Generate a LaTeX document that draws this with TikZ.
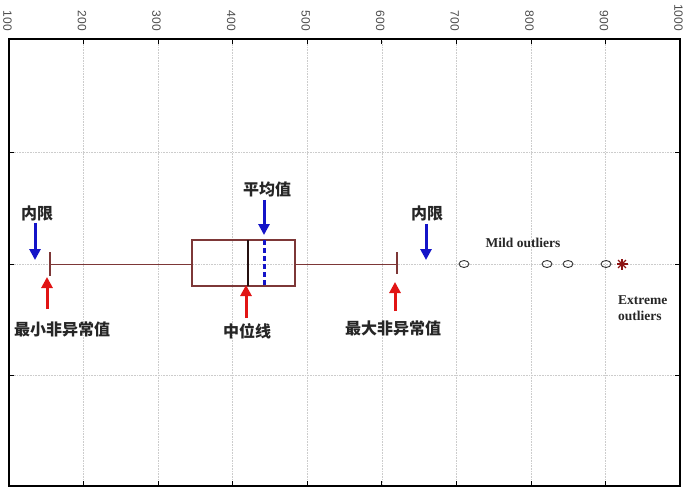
\documentclass[tikz,border=0pt]{standalone}
\usepackage{fontspec}
\setmainfont{Liberation Serif}
\newfontfamily\cjk{Noto Sans CJK SC}
\newfontfamily\axisfont{Liberation Sans}
\usepackage{tikz}
\usetikzlibrary{arrows.meta, positioning, shapes.geometric}

\definecolor{boxred}{RGB}{125,55,55}
\definecolor{outred}{RGB}{140,20,20}
\definecolor{arrowblue}{RGB}{20,20,200}
\definecolor{arrowred}{RGB}{225,20,20}

\begin{document}
\begin{tikzpicture}[x=1pt, y=-1pt,
        frame/.style={line width=1.2pt, black},
        gridline/.style={densely dotted, gray!40, line width=0.6pt},
        ticklabel/.style={font=\axisfont\fontsize{12}{12}\selectfont, text=black!70, rotate=-90, anchor=east, inner sep=0pt},
        boxline/.style={draw=boxred, line width=1.1pt},
        label/.style={font=\cjk\bfseries\fontsize{16}{16}\selectfont, text=black!85, inner sep=1pt},
        enlabel/.style={font=\bfseries\fontsize{13.5}{16}\selectfont, text=black!85, inner sep=0pt},
        downarrow/.style={-{Triangle[width=11pt,length=11pt]}, line width=3pt, draw=arrowblue},
        uparrow/.style={-{Triangle[width=11pt,length=11pt]}, line width=3pt, draw=arrowred},
        mild/.style={ellipse, draw=black!80, line width=0.9pt, minimum width=10pt, minimum height=7pt, inner sep=0pt}
    ]
    \useasboundingbox (0,0) rectangle (690,492);

    % 网格与坐标轴
    \foreach \i in {1,...,8}
        \draw[gridline] ({9+74.56*\i},39) -- ({9+74.56*\i},486);
    \foreach \y in {152,264,375}
        \draw[gridline] (9,\y) -- (680,\y);
    \foreach \v [count=\i from 0] in {100,200,300,400,500,600,700,800,900,1000} {
        \node[ticklabel] (t\v) at ({9+74.56*\i-1.5},31) {\v};
        \draw[line width=0.8pt] ({9+74.56*\i},39) -- ++(0,5);
        \draw[line width=0.8pt] ({9+74.56*\i},486) -- ++(0,-5);
    }
    \foreach \y in {152,264,375} {
        \draw[line width=0.8pt] (9,\y) -- ++(5,0);
        \draw[line width=0.8pt] (680,\y) -- ++(-5,0);
    }
    \draw[frame] (9,39) rectangle (680,486);

    % 箱线图
    \draw[draw=boxred, line width=0.9pt] (50,264) -- (192,264);
    \draw[draw=boxred, line width=0.9pt] (295,264) -- (397,264);
    \draw[draw=boxred, line width=1.1pt] (50,252) -- (50,276);
    \draw[draw=boxred, line width=1.1pt] (397,252) -- (397,274);
    \draw[boxline] (192,240) rectangle (295,286);
    \draw[draw=black!70!boxred, line width=1.2pt] (248,240) -- (248,286);
    \draw[draw=arrowblue, line width=3pt, dash pattern=on 5pt off 3pt] (264,240) -- (264,286);

    % 异常值
    \node[mild] (o1) at (464,264) {};
    \node[mild] (o2) at (547,264) {};
    \node[mild] (o3) at (568,264) {};
    \node[mild] (o4) at (606,264) {};
    \coordinate (ext) at (622,264);
    \foreach \a in {0,45,90,135}
        \draw[outred, line width=1.1pt] (ext) +(\a:5.5) -- +(\a+180:5.5);

    % 标注
    \node[label] (innerL) at (37,213) {内限};
    \node[label] (innerR) at (427,213) {内限};
    \node[label] (mean) at (267,189) {平均值};
    \node[label] (minV) at (62,329) {最小非异常值};
    \node[label] (median) at (247,331) {中位线};
    \node[label] (maxV) at (393,328) {最大非异常值};
    \node[enlabel] (mildL) at (523,243) {Mild outliers};
    \node[enlabel, align=left, anchor=west] (extL) at (618,308) {Extreme\\outliers};

    \coordinate (innerLtip) at (35,260);
    \coordinate (innerRtip) at (426,260);
    \coordinate (meantip) at (264,235);
    \coordinate (minVtip) at (47,277);
    \coordinate (mediantip) at (246,285);
    \coordinate (maxVtip) at (395,282);

    % 连接
    \draw[downarrow, shorten <=1pt] (innerL.south -| innerLtip) -- (innerLtip);
    \draw[downarrow, shorten <=2pt] (innerR.south -| innerRtip) -- (innerRtip);
    \draw[downarrow, shorten <=2pt] (mean.south -| meantip) -- (meantip);
    \draw[uparrow, shorten <=11pt] (minV.north -| minVtip) -- (minVtip);
    \draw[uparrow, shorten <=4pt] (median.north -| mediantip) -- (mediantip);
    \draw[uparrow, shorten <=8pt] (maxV.north -| maxVtip) -- (maxVtip);

\end{tikzpicture}
\end{document}
